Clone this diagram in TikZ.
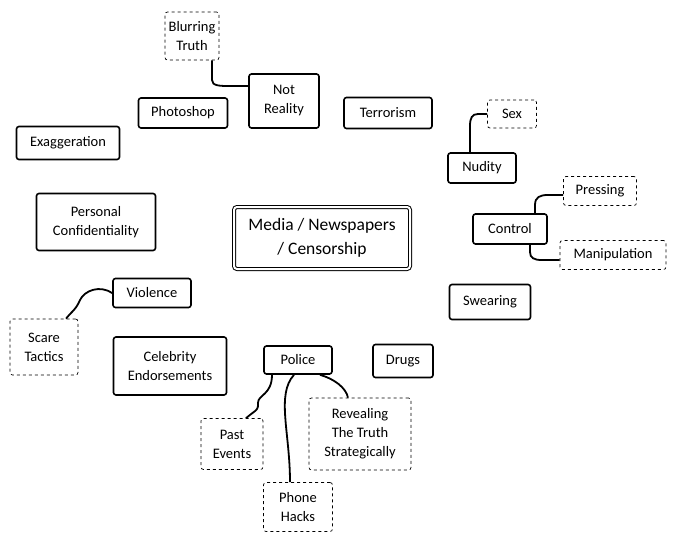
\documentclass[tikz,border=0pt]{standalone}
\usepackage{fontspec}
\setmainfont{Carlito}
\begin{document}
\begin{tikzpicture}[x=1pt,y=-1pt,
  box/.style={draw,line width=1.6pt,rounded corners=2.5pt,align=center,font=\fontsize{14.5}{19}\selectfont,inner sep=0pt},
  dbox/.style={draw,dashed,line width=0.7pt,rounded corners=2.5pt,align=center,font=\fontsize{14.5}{19}\selectfont,inner sep=0pt},
  con/.style={line width=1.8pt}]
\useasboundingbox (0,0) rectangle (675,538);
\node[draw,double,double distance=2pt,line width=1pt,rounded corners=3pt,minimum width=176pt,minimum height=62pt,align=center,font=\fontsize{17.5}{24}\selectfont] (c) at (322,238) {Media / Newspapers\\/ Censorship};
\node[dbox,minimum width=54pt,minimum height=48pt] (bt) at (192,36) {Blurring\\Truth};
\node[box,minimum width=70pt,minimum height=54pt] (nr) at (284,101) {Not\\Reality};
\node[box,minimum width=89pt,minimum height=30pt] (ps) at (183,113) {Photoshop};
\node[box,minimum width=88pt,minimum height=31pt] (te) at (388,113) {Terrorism};
\node[box,minimum width=103pt,minimum height=33pt] (ex) at (68,143) {Exaggeration};
\node[dbox,minimum width=49pt,minimum height=28pt] (sx) at (512,114) {Sex};
\node[box,minimum width=68pt,minimum height=30pt] (nu) at (482,168) {Nudity};
\node[dbox,minimum width=73pt,minimum height=29pt] (pr) at (600,191) {Pressing};
\node[box,minimum width=74pt,minimum height=30pt] (co) at (510,229) {Control};
\node[dbox,minimum width=106pt,minimum height=29pt] (ma) at (613,255) {Manipulation};
\node[box,minimum width=119pt,minimum height=57pt] (pc) at (96,222) {Personal\\Confidentiality};
\node[box,minimum width=78pt,minimum height=29pt] (vi) at (152,293) {Violence};
\node[dbox,minimum width=68pt,minimum height=56pt] (st) at (44,347) {Scare\\Tactics};
\node[box,minimum width=81pt,minimum height=35pt] (sw) at (490,302) {Swearing};
\node[box,minimum width=113pt,minimum height=58pt] (ce) at (170,366) {Celebrity\\Endorsements};
\node[box,minimum width=68pt,minimum height=28pt] (po) at (298,360) {Police};
\node[box,minimum width=60pt,minimum height=33pt] (dr) at (403,361) {Drugs};
\node[dbox,minimum width=62pt,minimum height=51pt] (pe) at (232,444) {Past\\Events};
\node[dbox,minimum width=102pt,minimum height=72pt] (rv) at (360,434) {Revealing\\The Truth\\Strategically};
\node[dbox,minimum width=69pt,minimum height=49pt] (ph) at (298,507) {Phone\\Hacks};
\coordinate (a1) at (212,80);
\draw[con] (bt.south -| a1) -- (a1) .. controls (212,86) and (220,86) .. (230,86) -- (nr.west |- 0,86);
\coordinate (a2) at (470,126);
\draw[con] (sx.west) -- (478,114) .. controls (472,114) and (470,118) .. (a2) -- (nu.north -| a2);
\coordinate (a3) at (535,205);
\draw[con] (co.north -| a3) -- (a3) .. controls (535,197) and (540,195) .. (548,195) -- (pr.west |- 0,195);
\coordinate (a4) at (530,252);
\draw[con] (co.south -| a4) -- (a4) .. controls (530,258) and (534,260) .. (542,260) -- (ma.west |- 0,260);
\draw[con] (vi.west) .. controls (100,285) and (85,290) .. (80,300) .. controls (76,310) and (70,313) .. ([xshift=22pt]st.north);
\draw[con] ([xshift=-26pt]po.south) .. controls +(0,20) and +(0,-8) .. ++(-14,28) .. controls +(0,8) and +(12,-10) .. ([xshift=14pt]pe.north);
\draw[con] ([xshift=-4pt]po.south) .. controls +(-18,20) and +(0,-50) .. ([xshift=-8pt]ph.north);
\draw[con] ([xshift=22pt]po.south) .. controls +(14,4) and +(-2,-10) .. ([xshift=-12pt]rv.north);
\end{tikzpicture}
\end{document}
